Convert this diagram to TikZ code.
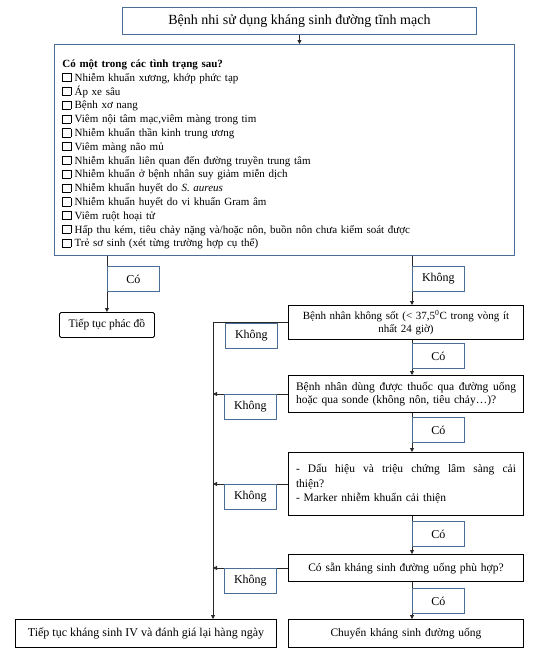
\documentclass[tikz,border=0pt]{standalone}
\usepackage{fontspec}
\setmainfont{Liberation Serif}
\usetikzlibrary{arrows.meta}
\definecolor{frameblue}{RGB}{74,110,150}
\definecolor{linegrey}{RGB}{40,40,40}
\newcommand\cbx{\raisebox{0em}{\setlength{\fboxsep}{0pt}\setlength{\fboxrule}{0.4pt}\fbox{\rule{0pt}{0.7em}\hspace{0.7em}}}\ }
\newcommand\spreadline[1]{\hbox to 220pt{#1}}
\begin{document}
\begin{tikzpicture}[x=1pt,y=-1pt,
  every node/.style={font=\fontsize{11.5}{13.5}\selectfont, inner sep=0pt},
  bluebox/.style={draw=frameblue, line width=0.9pt},
  dbox/.style={draw=black, line width=1pt, anchor=north west, minimum width=235pt, text width=220pt},
  lbl/.style={draw=frameblue, line width=0.8pt, fill=white, minimum width=52pt, minimum height=25pt, anchor=north west, font=\fontsize{12}{14}\selectfont},
  conn/.style={draw=linegrey, line width=0.8pt},
  arr/.style={conn, -{Triangle[length=4pt,width=4pt]}},
]
\useasboundingbox (0,0) rectangle (534,651);
\coordinate (cx) at (412,0);
\coordinate (lx) at (213,0);

\node[bluebox, anchor=north west, minimum width=354pt, minimum height=27pt, font=\fontsize{14}{16}\selectfont] (title) at (122,7) {Bệnh nhi sử dụng kháng sinh đường tĩnh mạch};

\node[bluebox, anchor=north west, minimum width=460pt, minimum height=211pt, text width=444pt, align=left, font=\fontsize{11}{13.8}\selectfont] (big) at (54,44) {\rule{0pt}{17pt}\textbf{Có một trong các tình trạng sau?}\\
\cbx Nhiễm khuẩn xương, khớp phức tạp\\
\cbx Áp xe sâu\\
\cbx Bệnh xơ nang\\
\cbx Viêm nội tâm mạc,viêm màng trong tim\\
\cbx Nhiễm khuẩn thần kinh trung ương\\
\cbx Viêm màng não mủ\\
\cbx Nhiễm khuẩn liên quan đến đường truyền trung tâm\\
\cbx Nhiễm khuẩn ở bệnh nhân suy giảm miễn dịch\\
\cbx Nhiễm khuẩn huyết do \textit{S. aureus}\\
\cbx Nhiễm khuẩn huyết do vi khuẩn Gram âm\\
\cbx Viêm ruột hoại tử\\
\cbx Hấp thu kém, tiêu chảy nặng và/hoặc nôn, buồn nôn chưa kiểm soát được\\
\cbx Trẻ sơ sinh (xét từng trường hợp cụ thể)};

\node[draw=black, line width=0.9pt, rounded corners=1.5pt, anchor=north west, minimum width=95pt, minimum height=25pt] (phacdo) at (59,312) {Tiếp tục phác đồ};

\node[dbox, minimum height=34pt, align=center, font=\fontsize{11}{13}\selectfont] (b1) at (288,305) {Bệnh nhân không sốt (< 37,5\textsuperscript{0}C trong vòng ít\\ nhất 24 giờ)};
\node[dbox, minimum height=37pt, align=left] (b2) at (288,375) {\spreadline{Bệnh\hfill nhân\hfill dùng\hfill được\hfill thuốc\hfill qua\hfill đường\hfill uống}\\ hoặc qua sonde (không nôn, tiêu chảy…)?};
\node[dbox, minimum height=63pt, align=left, font=\fontsize{11.5}{14.5}\selectfont] (b3) at (288,452) {\spreadline{-\hfill Dấu\hfill hiệu\hfill và\hfill triệu\hfill chứng\hfill lâm\hfill sàng\hfill cải}\\ thiện?\\ - Marker nhiễm khuẩn cải thiện};
\node[dbox, minimum height=27pt, align=center] (b4) at (288,554) {Có sẵn kháng sinh đường uống phù hợp?};
\node[dbox, minimum height=28pt, align=center] (out) at (288,619) {Chuyển kháng sinh đường uống};
\node[draw=black, line width=1pt, anchor=north west, minimum width=261pt, minimum height=28pt, font=\fontsize{12}{14}\selectfont] (cont) at (15,619) {Tiếp tục kháng sinh IV và đánh giá lại hàng ngày};

\draw[arr] (title.south) -- (title.south |- big.north);
\draw[arr] (big.south -| phacdo.north) -- (phacdo.north);
\draw[arr] (big.south -| cx) -- (b1.north -| cx);
\draw[arr] (b1.south -| cx) -- (b2.north -| cx);
\draw[arr] (b2.south -| cx) -- (b3.north -| cx);
\draw[arr] (b3.south -| cx) -- (b4.north -| cx);
\draw[arr] (b4.south -| cx) -- (out.north -| cx);
\draw[arr] (b1.west) -- (b1.west -| lx) -- (cont.north -| lx);
\draw[arr] (b2.west) -- (b2.west -| lx);
\draw[arr] (b3.west) -- (b3.west -| lx);
\draw[arr] (b4.west) -- (b4.west -| lx);

\node[lbl] (co1) at (107,266) {Có};
\node[lbl] (kh0) at (412,266) {Không};
\node[lbl] (kh1) at (225,323) {Không};
\node[lbl] (co2) at (412,343) {Có};
\node[lbl] (kh2) at (224,394) {Không};
\node[lbl] (co3) at (412,417) {Có};
\node[lbl] (kh3) at (224,484) {Không};
\node[lbl] (co4) at (412,521) {Có};
\node[lbl] (kh4) at (224,568) {Không};
\node[lbl] (co5) at (412,588) {Có};
\end{tikzpicture}
\end{document}
